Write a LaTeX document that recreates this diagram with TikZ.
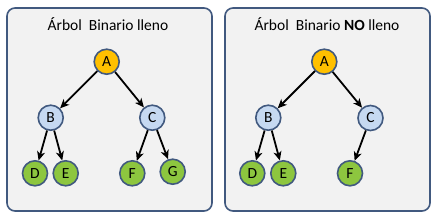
\documentclass[tikz,border=0pt]{standalone}
\usepackage{fontspec}
\setmainfont{Carlito}
\usetikzlibrary{arrows.meta}
\definecolor{panelfill}{HTML}{F2F2F2}
\definecolor{panelline}{HTML}{41597F}
\definecolor{nodeline}{HTML}{41597F}
\definecolor{orangefill}{HTML}{FFC000}
\definecolor{bluefill}{HTML}{C6D9F1}
\definecolor{greenfill}{HTML}{8DC63F}
\tikzset{
  panel/.style={draw=panelline, fill=panelfill, line width=1.6pt, rounded corners=8pt},
  tnode/.style={circle, draw=nodeline, line width=1.6pt, minimum size=25pt, inner sep=0pt, font=\fontsize{15.5}{15.5}\selectfont},
  rootnode/.style={tnode, fill=orangefill},
  midnode/.style={tnode, fill=bluefill},
  leafnode/.style={tnode, fill=greenfill},
  edge/.style={draw=black, line width=1.8pt, -{Stealth[length=9pt,width=8pt,inset=2.5pt]}},
  title/.style={font=\fontsize{15.5}{15.5}\selectfont}
}
\begin{document}
\begin{tikzpicture}[x=1pt,y=-1pt]
\useasboundingbox (0,0) rectangle (440,218);
% left panel
\draw[panel] (7,8) rectangle (212,211);
\node[title] (t1) at (108,24.5) {Árbol\ \ Binario lleno};
\node[rootnode] (a1) at (106.7,61.7) {A};
\node[midnode] (b1) at (50.7,117.7) {B};
\node[midnode] (c1) at (152.3,117.7) {C};
\node[leafnode] (d1) at (35,173.3) {D};
\node[leafnode] (e1) at (65.7,173.3) {E};
\node[leafnode] (f1) at (132.3,173.3) {F};
\node[leafnode] (g1) at (172.7,171.7) {G};
\draw[edge] (a1) -- (b1);
\draw[edge] (a1) -- (c1);
\draw[edge] (b1) -- (d1);
\draw[edge] (b1) -- (e1);
\draw[edge] (c1) -- (f1);
\draw[edge] (c1) -- (g1);
% right panel
\draw[panel] (225,8) rectangle (430,211);
\node[title] (t2) at (327,24.5) {Árbol\ \ Binario \textbf{NO} lleno};
\node[rootnode] (a2) at (324.3,61.7) {A};
\node[midnode] (b2) at (268.3,117.7) {B};
\node[midnode] (c2) at (370.5,118) {C};
\node[leafnode] (d2) at (252.3,173.3) {D};
\node[leafnode] (e2) at (283.3,173.3) {E};
\node[leafnode] (f2) at (350,173.3) {F};
\draw[edge] (a2) -- (b2);
\draw[edge] (a2) -- (c2);
\draw[edge] (b2) -- (d2);
\draw[edge] (b2) -- (e2);
\draw[edge] (c2) -- (f2);
\end{tikzpicture}
\end{document}
